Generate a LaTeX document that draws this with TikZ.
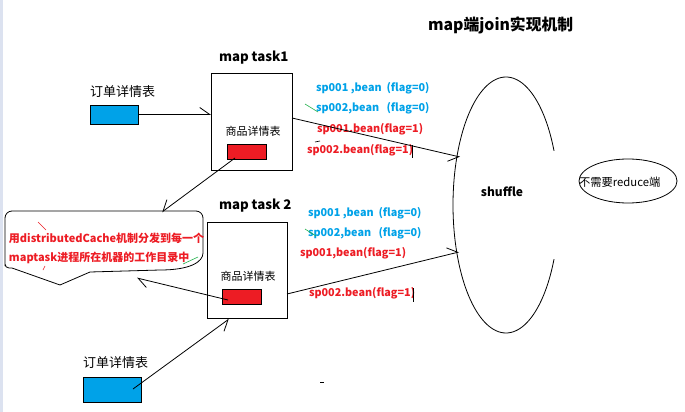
\documentclass[tikz,border=0pt]{standalone}
\usepackage{fontspec}
\setmainfont{Noto Sans CJK SC}
\usetikzlibrary{arrows.meta,shapes.geometric,calc}
\definecolor{pblue}{RGB}{0,162,232}
\definecolor{pred}{RGB}{237,28,36}
\definecolor{pgreen}{RGB}{34,177,76}
\definecolor{pstrip}{RGB}{220,226,240}
\begin{document}
\begin{tikzpicture}[x=1pt,y=-1pt,line width=0.8pt,
  every node/.style={inner sep=0pt,outer sep=0pt},
  taskbox/.style={draw,rectangle,anchor=north west},
  bluebox/.style={draw,fill=pblue,rectangle,anchor=north west},
  redbox/.style={draw,fill=pred,rectangle,anchor=north west},
  titletext/.style={font=\bfseries\fontsize{15.8}{18}\selectfont,anchor=west},
  tasklabel/.style={font=\bfseries\fontsize{13.2}{15}\selectfont,anchor=west},
  tabletext/.style={font=\fontsize{13}{15}\selectfont,anchor=west},
  innertext/.style={font=\fontsize{11}{13}\selectfont},
  flagtext/.style={font=\bfseries\fontsize{10.8}{12}\selectfont,anchor=west},
  flagblue/.style={flagtext,text=pblue},
  flagred/.style={flagtext,text=pred},
  calltext/.style={font=\bfseries\fontsize{11}{13}\selectfont,text=pred,anchor=west},
  barbL/.style={-{Straight Barb[left,length=10pt,width=14pt]}},
  barbR/.style={-{Straight Barb[right,length=10pt,width=14pt]}},
  scribble/.style={line width=0.6pt}]
\useasboundingbox (0,0) rectangle (685,412);
\fill[white] (0,0) rectangle (685,412);
\fill[pstrip] (0,0) rectangle (3,412);

% title
\node[titletext] (title) at (428,25) {map端join实现机制};

% map task 1
\node[tasklabel] (t1lbl) at (219,58) {map task1};
\node[taskbox,minimum width=81pt,minimum height=97pt] (t1) at (211,73) {};
\node[innertext] (t1txt) at (253,131) {商品详情表};
\node[redbox,minimum width=39pt,minimum height=15pt] (r1) at (227,144) {};

% map task 2
\node[tasklabel] (t2lbl) at (219,206) {map task 2};
\node[taskbox,minimum width=80pt,minimum height=96pt] (t2) at (207,222) {};
\node[innertext] (t2txt) at (248,276) {商品详情表};
\node[redbox,minimum width=39pt,minimum height=15pt] (r2) at (222,289) {};

% order tables
\node[tabletext] (o1lbl) at (90,92) {订单详情表};
\node[bluebox,minimum width=48pt,minimum height=19pt] (o1) at (90,105) {};
\node[tabletext] (o2lbl) at (83,363) {订单详情表};
\node[bluebox,minimum width=58pt,minimum height=25pt] (o2) at (83,377) {};

% flag texts task 1
\node[flagblue] (f11) at (316,88) {sp001 ,bean\ \ (flag=0)};
\node[flagblue] (f12) at (316,108) {sp002,bean\ \ \ (flag=0)};
\node[flagred] (f13) at (317,129) {sp001.bean(flag=1)};
\node[flagred] (f14) at (307,150) {sp002.bean(flag=1)};
% flag texts task 2
\node[flagblue] (f21) at (308,213) {sp001 ,bean\ \ (flag=0)};
\node[flagblue] (f22) at (308,233) {sp002,bean\ \ \ (flag=0)};
\node[flagred] (f23) at (300,253) {sp001,bean(flag=1)};
\node[flagred] (f24) at (309,293) {sp002.bean(flag=1)};

% shuffle ellipse (open on the right)
\draw plot[domain=-25:-335,samples=120,smooth] ({506+53*cos(\x)},{205+128*sin(\x)});
\node[font=\bfseries\fontsize{12}{14}\selectfont] (shuf) at (502,192) {shuffle};
\coordinate (s1) at (460,157);
\coordinate (s2) at (459,252);

% no reduce ellipse
\node[draw,ellipse,minimum width=98pt,minimum height=44pt] (nored) at (628,181) {};
\node[font=\fontsize{11.3}{13}\selectfont,anchor=west] (noredtxt) at (579,182) {不需要reduce端};

% callout
\draw[rounded corners=7pt] (5,262) -- (5,211) -- (203,211) -- (203,246)
  [sharp corners] .. controls (203,262) and (190,270) .. (160,270) -- (90,272) -- (60,285) -- (12,268) [rounded corners=4pt] -- (5,268) -- cycle;
\node[calltext] (cl1) at (9,238) {用distributedCache机制分发到每一个};
\node[calltext] (cl2) at (9,258) {maptask进程所在机器的工作目录中};
\coordinate (c1) at (162,212);
\coordinate (c2) at (137,278);

% connectors
\draw[barbL] (o1.east) -- (o1.east -| t1.west);
\coordinate (o2in) at (133,389);
\coordinate (t2bot) at (229,319);
\draw[barbR] (o2in) -- (t2bot);
\coordinate (t1out) at (292,118);
\draw[barbR] (t1out) -- (s1);
\coordinate (t2out) at (287,294);
\draw[barbL] (t2out) -- (s2);
\coordinate (r1out) at (235,158);
\draw[barbR] (r1out) -- (c1);
\coordinate (r2out) at (228,300);
\draw[barbL] (r2out) -- (c2);

% small scribbles
\draw[scribble,pgreen] (305,104) -- (318,112);
\draw[scribble,pgreen] (305,229) -- (316,236);
\draw[scribble,pgreen] (183,264) -- (198,257);
\draw[scribble,pred] (38,222) -- (46,230);
\draw[scribble,pred] (45,266) -- (43,270);
\draw[scribble] (315,142) -- (320,141);
\draw[scribble] (412,145) -- (412,158);
\draw[scribble] (413,288) -- (413,302);
\draw[scribble] (320,382) -- (324,382);
\end{tikzpicture}
\end{document}
